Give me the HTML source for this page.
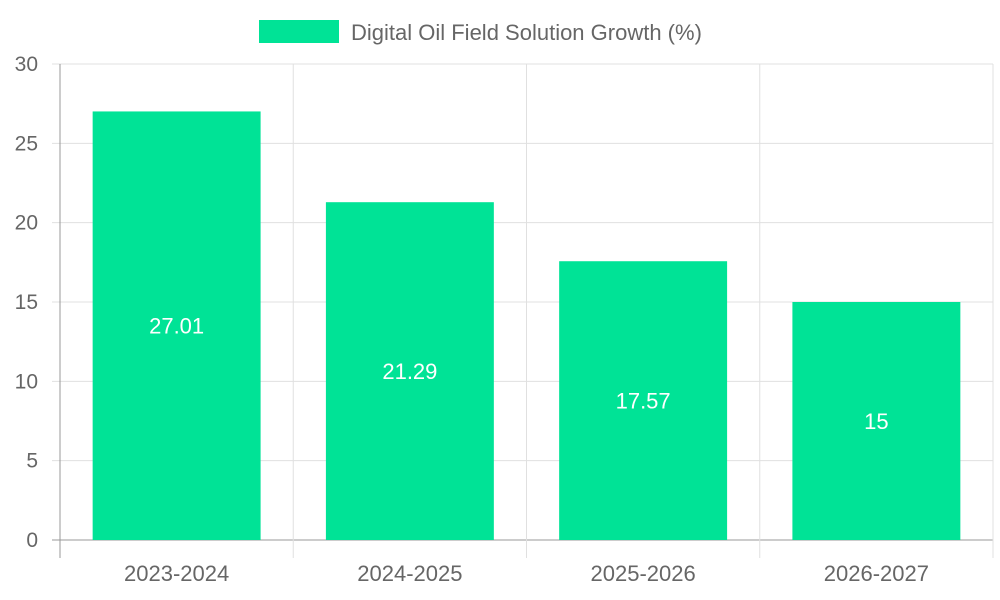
<!DOCTYPE html>
<html><head><meta charset="utf-8"><style>
html,body{margin:0;padding:0;background:#fff;}
svg{display:block;font-family:"Liberation Sans",sans-serif;}
</style></head><body>
<svg id="chart" width="1000" height="600">
<g id="legend">
<rect x="259" y="20" width="80" height="23" fill="#00e396"></rect>
<text x="351" y="40" font-size="22" fill="#666">Digital Oil Field Solution Growth (%)</text>
</g>
<g id="grid"></g><g id="bars"></g><g id="labels"></g>
</svg>
<script>
const categories = ["2023-2024","2024-2025","2025-2026","2026-2027"];
const values = [27.01, 21.29, 17.57, 15];
const yTicks = [0,5,10,15,20,25,30];
const NS="http://www.w3.org/2000/svg";
const L=60,R=993,T=64,B=540,yMax=30;
const y=v=>B-(v/yMax)*(B-T);
const bw=(R-L)/categories.length;
const x=i=>L+bw*i;
function mk(tag,attrs,parent){const e=document.createElementNS(NS,tag);for(const k in attrs)e.setAttribute(k,attrs[k]);parent.appendChild(e);return e;}
const grid=document.getElementById('grid'),bars=document.getElementById('bars'),labels=document.getElementById('labels');
yTicks.forEach(t=>{
  const ln=mk('line',{x1:52,x2:R,y1:y(t),y2:y(t),stroke:t===0?'#999':'#e0e0e0','stroke-width':1},grid);
  
  
  const tx=mk('text',{x:38,y:y(t)+7,'text-anchor':'end','font-size':21,fill:'#666'},grid);
  tx.textContent=t;
  
  
});
for(let i=0;i<=categories.length;i++){
  const ln=mk('line',{x1:x(i),x2:x(i),y1:T,y2:558,stroke:i===0?'#999':'#e0e0e0','stroke-width':1},grid);
  
  
}
categories.forEach((c,i)=>{
  const w=bw*0.72,cx=x(i)+bw/2;
  const r=mk('rect',{x:cx-w/2,y:y(values[i]),width:w,height:B-y(values[i]),fill:'#00e396'},bars);
  
  
  const v=mk('text',{x:cx,y:(y(values[i])+B)/2+8,'text-anchor':'middle','font-size':22,fill:'#fff'},labels);
  v.textContent=values[i];
  
  
  const xl=mk('text',{x:cx,y:581,'text-anchor':'middle','font-size':22,fill:'#666'},labels);
  xl.textContent=c;
  
  
});
</script>
</body></html>
